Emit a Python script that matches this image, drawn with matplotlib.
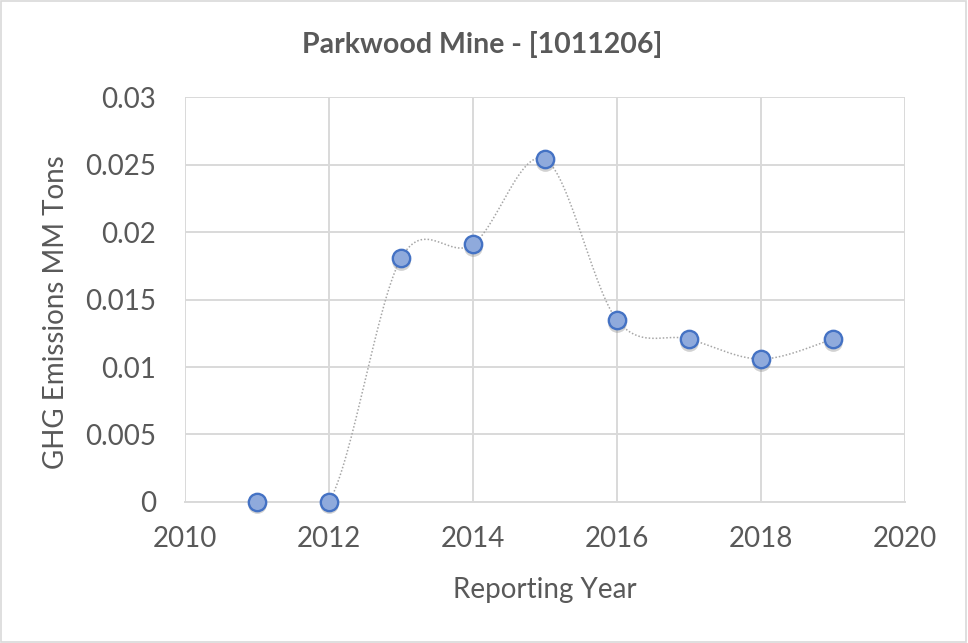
import matplotlib
matplotlib.use("Agg")
import matplotlib.pyplot as plt
import matplotlib.transforms as mtransforms
import numpy as np
from matplotlib.patches import Rectangle

years = [2011, 2012, 2013, 2014, 2015, 2016, 2017, 2018, 2019]
emissions = [0.0, 0.0, 0.01805, 0.01909, 0.02539, 0.01348, 0.01207, 0.01059, 0.01207]
x_ticks = [2010, 2012, 2014, 2016, 2018, 2020]
y_ticks = [0, 0.005, 0.01, 0.015, 0.02, 0.025, 0.03]
y_labels = ["0", "0.005", "0.01", "0.015", "0.02", "0.025", "0.03"]

TXT = "#595959"
plt.rcParams['font.family'] = ['Lato', 'DejaVu Sans']


def smooth(xs, ys, n=30):
    # Excel-style smoothed line: cubic Bezier segments, control points at 1/6
    # of the neighbour differences (Catmull-Rom)
    xs = np.asarray(xs, float); ys = np.asarray(ys, float)
    px = np.concatenate([[xs[0]], xs, [xs[-1]]])
    py = np.concatenate([[ys[0]], ys, [ys[-1]]])
    t = np.linspace(0, 1, n)[:, None]
    outx, outy = [], []
    for i in range(1, len(px) - 2):
        p0 = np.array([px[i], py[i]]); p3 = np.array([px[i + 1], py[i + 1]])
        c1 = p0 + (np.array([px[i + 1], py[i + 1]]) - np.array([px[i - 1], py[i - 1]])) / 6
        c2 = p3 - (np.array([px[i + 2], py[i + 2]]) - p0) / 6
        b = ((1 - t) ** 3) * p0 + 3 * ((1 - t) ** 2) * t * c1 + 3 * (1 - t) * t ** 2 * c2 + t ** 3 * p3
        outx.append(b[:, 0]); outy.append(b[:, 1])
    return np.concatenate(outx), np.concatenate(outy)


fig = plt.figure(figsize=(9.68, 6.43), dpi=100)
fig.patches.append(Rectangle((0.001, 0.001), 0.997, 0.997, transform=fig.transFigure,
                             fill=False, edgecolor="#d9d9d9", lw=1.2))
ax = fig.add_axes([0.1911, 0.2193, 0.7438, 0.6298])

sx, sy = smooth(years, emissions)
ax.plot(sx, sy, color="#a6a6a6", lw=1.1, ls=(0, (1, 1.3)), zorder=3)
# soft drop shadow under the markers
shadow = mtransforms.offset_copy(ax.transData, fig=fig, x=0.5, y=-2.5, units="dots")
ax.plot(years, emissions, ls="none", marker="o", ms=13.5, mfc="#7f7f7f", mec="none",
        alpha=0.35, transform=shadow, zorder=3.5, clip_on=False)
ax.plot(years, emissions, ls="none", marker="o", ms=12.5, mfc="#8faadc",
        mec="#4472c4", mew=1.7, zorder=4, clip_on=False)

ax.set_xlim(2010, 2020)
ax.set_ylim(0, 0.03)
ax.set_xticks(x_ticks)
ax.set_yticks(y_ticks)
ax.set_yticklabels(y_labels)
ax.grid(True, color="#d9d9d9", lw=1.4)
ax.set_axisbelow(True)
for s in ax.spines.values():
    s.set_visible(False)
ax.spines["bottom"].set_visible(True)
ax.spines["bottom"].set_color("#d9d9d9")
ax.spines["bottom"].set_linewidth(1.4)
ax.tick_params(length=0, labelsize=20, labelcolor=TXT)
ax.tick_params(axis="x", pad=17)
ax.tick_params(axis="y", pad=21)

fig.text(0.5625, 1 - 590 / 643, "Reporting Year", ha="center", va="center",
         fontsize=20, color=TXT)
fig.text(56 / 968, 1 - 312 / 643, "GHG Emissions MM Tons", ha="center", va="center",
         rotation=90, fontsize=20, color=TXT)
fig.text(482 / 968, 1 - 45 / 643, "Parkwood Mine - [1011206]", ha="center", va="center",
         fontsize=20.5, fontweight="bold", color=TXT)

fig.savefig("out.png", dpi=100)
